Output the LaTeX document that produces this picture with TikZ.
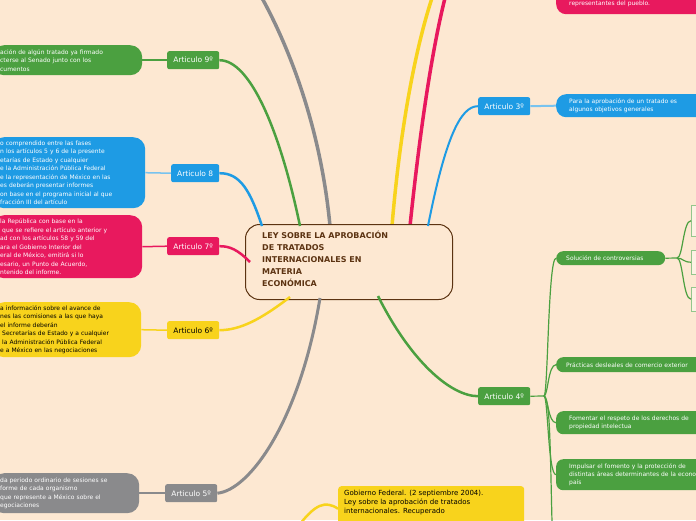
\documentclass[tikz,border=0pt]{standalone}
\usepackage{fontspec}
\setmainfont{DejaVu Sans}
\begin{document}
\begin{tikzpicture}[x=1pt,y=-1pt,
 tag/.style={rounded corners=2pt,text=white,font=\fontsize{7.5}{9}\selectfont,inner sep=0pt,minimum height=18pt,minimum width=52pt,anchor=north west},
 txt/.style={rounded corners=12pt,text=white,font=\fontsize{6}{8.5}\selectfont,align=left,anchor=north west,inner sep=0pt,text width=#1},
 sub/.style={rounded corners=7pt,fill=cgreen,text=white,font=\fontsize{6}{8}\selectfont,align=left,anchor=north west,inner sep=0pt},
 br/.style={line width=#1}]
\definecolor{bg}{HTML}{FDE8D2}
\definecolor{cgreen}{HTML}{4BA040}
\definecolor{cblue}{HTML}{1E9BE4}
\definecolor{cpink}{HTML}{E8195E}
\definecolor{cyel}{HTML}{F8D31C}
\definecolor{cgray}{HTML}{8A8A8C}
\definecolor{cbrown}{HTML}{5C3312}
\fill[bg] (0,0) rectangle (696,520);
\clip (0,0) rectangle (696,520);
\useasboundingbox (0,0) rectangle (696,520);
\coordinate (gtop) at (262,-2);
\coordinate (ytop) at (432,-2);
\coordinate (ptop) at (445,-2);
\coordinate (gbot) at (552,522);
\draw[cgray,br=3.5] (330,226) .. controls (320,120) and (285,40) .. (gtop);
\draw[cyel,br=3.5] (392,226) .. controls (400,130) and (415,50) .. (ytop);
\draw[cpink,br=3.5] (410,226) .. controls (420,130) and (432,50) .. (ptop);
\node[draw=cbrown,fill=bg,line width=1pt,rounded corners=14pt,minimum width=207pt,minimum height=75pt,anchor=north west] (c) at (245,224) {};
\node[anchor=north west,text=cbrown,font=\bfseries\fontsize{8}{12}\selectfont,align=left,inner sep=0pt] at (262,231) {LEY SOBRE LA APROBACIÓN\\DE TRATADOS\\INTERNACIONALES EN\\MATERIA\\ECONÓMICA};
\node[tag,fill=cgreen] (a9) at (167,51) {Articulo 9º};
\node[tag,fill=cblue,minimum width=48pt] (a8) at (171,164) {Articulo 8};
\node[tag,fill=cpink] (a7) at (167,237) {Articulo 7º};
\node[tag,fill=cyel,text=black] (a6) at (167,321) {Articulo 6º};
\node[tag,fill=cgray] (a5) at (165,484) {Articulo 5º};
\node[tag,fill=cblue] (a3) at (478,97) {Articulo 3º};
\node[tag,fill=cgreen] (a4) at (478,387) {Articulo 4º};
\node[txt=150pt,fill=cgreen,minimum height=30pt,inner sep=0pt] (t9) at (-8,45) {\hspace*{8pt}ación de algún tratado ya firmado\\\hspace*{8pt}cterse al Senado junto con los\\\hspace*{8pt}cumentos};
\node[txt=153pt,fill=cblue,minimum height=71pt] (t8) at (-8,137) {\hspace*{8pt}o comprendido entre las fases\\\hspace*{8pt}n los artículos 5 y 6 de la presente\\\hspace*{8pt}etarías de Estado y cualquier\\\hspace*{8pt}e la Administración Pública Federal\\\hspace*{8pt}e la representación de México en las\\\hspace*{8pt}es deberán presentar informes\\\hspace*{8pt}on base en el programa inicial al que\\\hspace*{8pt}fracción III del artículo};
\node[txt=150pt,fill=cpink,minimum height=63pt] (t7) at (-8,215) {\hspace*{8pt}la República con base en la\\\hspace*{8pt} que se refiere el artículo anterior y\\\hspace*{8pt}ad con los artículos 58 y 59 del\\\hspace*{8pt}ara el Gobierno Interior del\\\hspace*{8pt}eral de México, emitirá si lo\\\hspace*{8pt}esario, un Punto de Acuerdo,\\\hspace*{8pt}ntenido del informe.};
\node[txt=149pt,fill=cyel,text=black,minimum height=55pt] (t6) at (-8,302) {\hspace*{8pt}a información sobre el avance de\\\hspace*{8pt}nes las comisiones a las que haya\\\hspace*{8pt}el informe deberán\\\hspace*{8pt} Secretarías de Estado y a cualquier\\\hspace*{8pt} la Administración Pública Federal\\\hspace*{8pt}e a México en las negociaciones};
\node[txt=147pt,fill=cgray,minimum height=40pt] (t5) at (-8,473) {\hspace*{8pt}da periodo ordinario de sesiones se\\\hspace*{8pt}forme de cada organismo\\\hspace*{8pt}que represente a México sobre el\\\hspace*{8pt}egociaciones};
\node[txt=150pt,fill=cblue,minimum height=23pt,rounded corners=10pt] (t3) at (556,94) {\hspace*{13pt}Para la aprobación de un tratado es\\\hspace*{13pt}algunos objetivos generales};
\node[txt=150pt,fill=cpink,minimum height=30pt,rounded corners=10pt] (tp) at (556,-16) {\hspace*{13pt}necesidades y las peticiones de los\\\hspace*{13pt}representantes del pueblo.};
\node[sub,minimum width=109pt,minimum height=14pt,text width=109pt] (s1) at (556,251) {\hspace*{10pt}Solución de controversias};
\node[sub,minimum width=150pt,minimum height=15pt,text width=160pt] (s2) at (556,357) {\hspace*{10pt}Prácticas desleales de comercio exterior};
\node[sub,minimum width=150pt,minimum height=23pt,text width=160pt] (s3) at (556,411) {\hspace*{13pt}Fomentar el respeto de los derechos de\\\hspace*{13pt}propiedad intelectua};
\node[sub,minimum width=150pt,minimum height=31pt,text width=200pt] (s4) at (556,459) {\hspace*{13pt}Impulsar el fomento y la protección de\\\hspace*{13pt}distintas áreas determinantes de la economía del\\\hspace*{13pt}país};
\node[draw=cgreen!60,fill=bg!60!white,minimum width=12pt,minimum height=31pt,anchor=north west,inner sep=0pt] (b1) at (691,205) {};
\node[draw=cgreen!60,fill=bg!60!white,minimum width=12pt,minimum height=24pt,anchor=north west,inner sep=0pt] (b2) at (691,250) {};
\node[draw=cgreen!60,fill=bg!60!white,minimum width=12pt,minimum height=24pt,anchor=north west,inner sep=0pt] (b3) at (691,287) {};
\node[fill=cyel,rounded corners=3pt,anchor=north west,minimum width=186pt,minimum height=45pt,inner sep=0pt] (ref) at (338,486) {};
\node[anchor=north west,align=left,inner sep=0pt,font=\fontsize{7}{9}\selectfont] at (344,490) {Gobierno Federal. (2 septiembre 2004).\\Ley sobre la aprobación de tratados\\internacionales. Recuperado};
\draw[cgreen,br=2.5] (300,226) .. controls (280,130) and (250,60) .. (a9.east);
\draw[cgreen,br=1.5] (a9.west) -- (t9.east);
\draw[cblue,br=2.5] (262,226) .. controls (250,190) and (240,173) .. (a8.east);
\draw[cblue!60,br=1.5] (a8.west) -- (t8.east);
\draw[cpink,br=2.5] (250,262) .. controls (238,250) and (230,246) .. (a7.east);
\draw[cpink,br=1.5] (a7.west) -- (t7.east);
\draw[cyel,br=2.5] (290,297) .. controls (260,320) and (240,330) .. (a6.east);
\draw[cyel,br=1.5] (a6.west) -- (t6.east);
\draw[cgray,br=3] (320,298) .. controls (300,420) and (250,490) .. (a5.east);
\draw[cgray,br=1.5] (a5.west) -- (t5.east);
\draw[cblue,br=2] (428,226) .. controls (445,140) and (460,106) .. (a3.west);
\draw[cblue!60,br=2] (a3.east) -- (t3.west);
\draw[cgreen,br=2.5] (378,296) .. controls (410,360) and (450,396) .. (a4.west);
\draw[cyel,br=2.5] (300,524) .. controls (315,505) and (325,500) .. (ref.west);
\draw[cgreen,br=1.2] (a4.east) -- (544,396);
\foreach \t in {s1,s2,s3,s4} \draw[cgreen,br=1.2] (544,396) .. controls (548,396) and (548,0|-\t.west) .. (\t.west);
\draw[cgreen,br=1.2] (544,396) .. controls (550,400) and (550,440) .. (gbot);
\draw[cgreen,br=1.2] (s1.east) -- (677,258);
\foreach \t in {b1,b2,b3} \draw[cgreen,br=1.2] (677,258) .. controls (683,258) and (683,0|-\t.west) .. (\t.west);
\end{tikzpicture}
\end{document}
